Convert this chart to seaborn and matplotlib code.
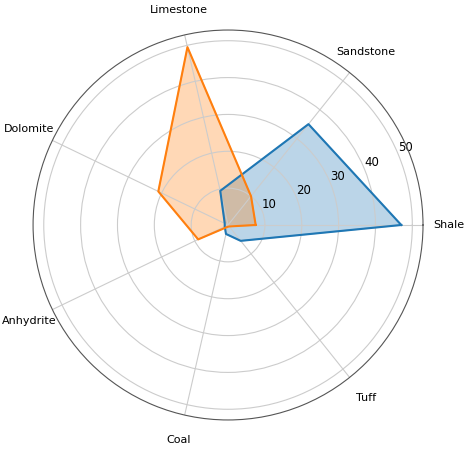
import numpy as np
import pandas as pd
import matplotlib
matplotlib.use("Agg")
import matplotlib.pyplot as plt
import seaborn as sns

# lithology composition (%) for two samples
categories = ["Shale", "Sandstone", "Limestone", "Dolomite", "Anhydrite", "Coal", "Tuff"]
sample_a = [47, 35, 9.5, 1, 1, 2.5, 5.5]
sample_b = [7.5, 10, 49.5, 21, 9, 0.5, 0.5]
series_names = ["Sample A", "Sample B"]
colors = ["#1f77b4", "#ff7f0e"]

angles = np.linspace(0, 2 * np.pi, len(categories), endpoint=False)

fig = plt.figure(figsize=(4.74, 4.55), dpi=100)
ax = fig.add_axes([0.0696, 0.077, 0.823, 0.857], projection="polar")

for name, vals, col in zip(series_names, [sample_a, sample_b], colors):
    # close the polygon (use 2*pi so seaborn doesn't merge the duplicate x)
    df = pd.DataFrame({"theta": np.append(angles, 2 * np.pi),
                       "r": np.append(vals, vals[0])})
    sns.lineplot(data=df, x="theta", y="r", ax=ax, sort=False,
                 color=col, linewidth=1.5, label=name, legend=False)
    ax.fill(df["theta"], df["r"], color=col, alpha=0.3)

ax.set_xticks(angles)
ax.set_xticklabels(categories)
ax.set_yticks([10, 20, 30, 40, 50])
ax.set_ylim(0, 52.9)
ax.set_xlabel("")
ax.set_ylabel("")
ax.tick_params(axis="x", pad=8, labelsize=8)
ax.tick_params(axis="y", labelsize=8.5)
ax.grid(True, color="#cccccc", linewidth=0.8)
ax.spines["polar"].set_color("#555555")

fig.savefig("out.png", dpi=100)
